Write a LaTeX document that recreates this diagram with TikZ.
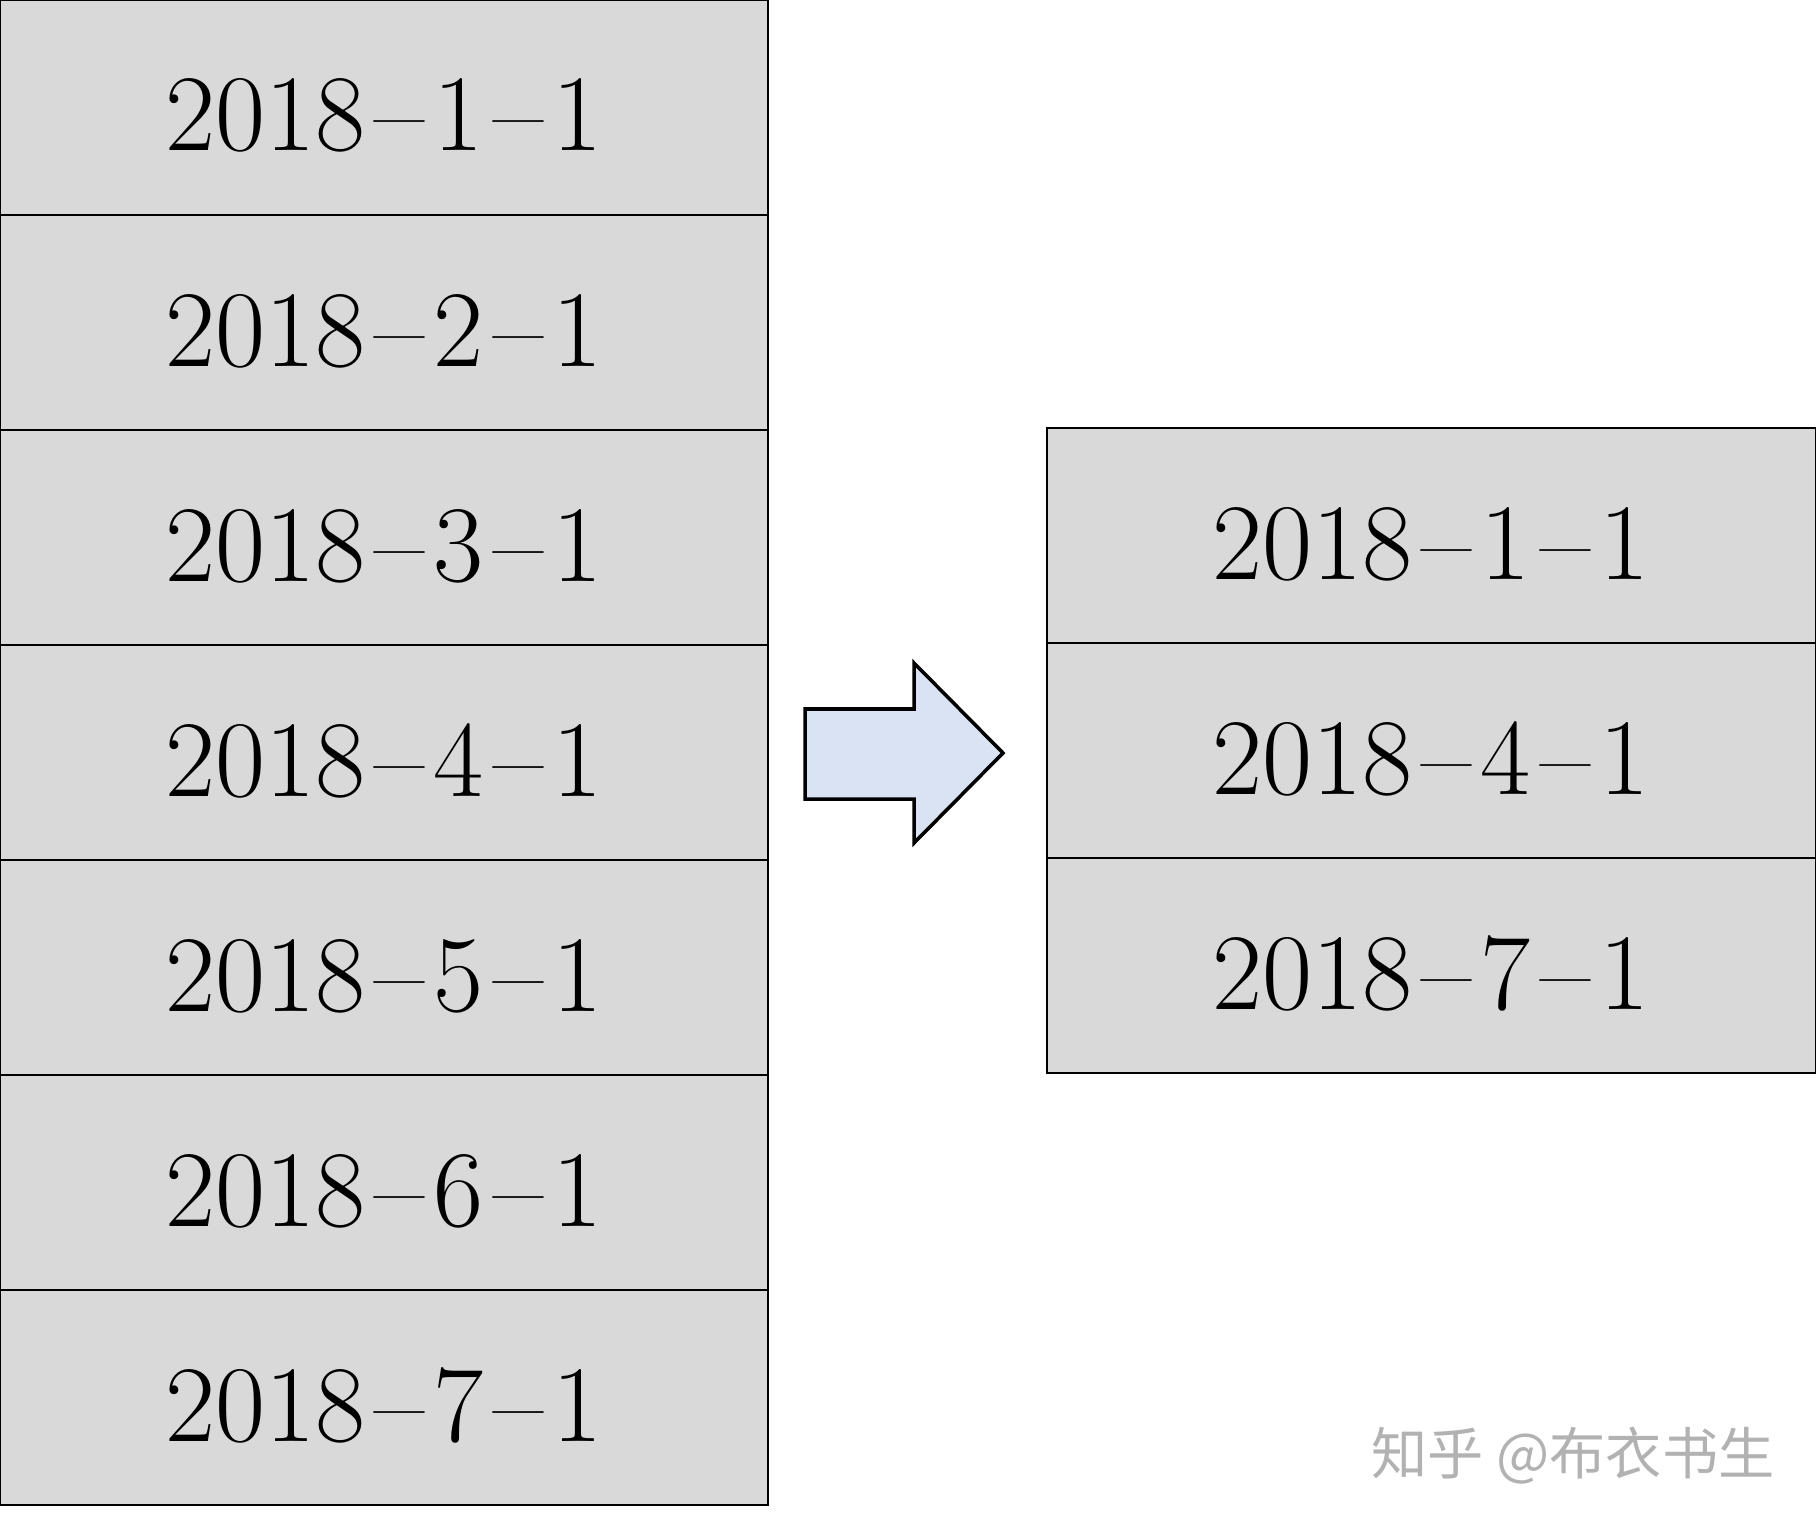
\documentclass[tikz,border=0pt]{standalone}
\usepackage{fontspec}
\newfontfamily\cjk{Noto Sans CJK SC}
\usetikzlibrary{positioning}
\definecolor{cellgray}{HTML}{D9D9D9}
\definecolor{arrowblue}{HTML}{DAE3F3}
\newcommand{\dsep}{\kern2.6pt--\kern2.6pt}
\tikzset{
	datecell/.style={draw=black, line width=0.3pt, fill=cellgray, rectangle,
		minimum width=7.68cm, minimum height=2.15cm, inner sep=0pt, outer sep=0pt,
		text height=0.87cm, text depth=0pt,
		font=\fontsize{31}{31}\selectfont},
}
\begin{document}
\begin{tikzpicture}
	\useasboundingbox (0,0) rectangle (18.16,-15.30);
	%LEFT COLUMN
	\node[datecell, anchor=north west] (l1) at (0,0) {2018\dsep1\dsep1};
	\foreach \m [remember=\m as \p (initially 1)] in {2,...,7}
		\node[datecell, below=0pt of l\p] (l\m) {2018\dsep\m\dsep1};
	%RIGHT COLUMN
	\node[datecell, anchor=north west] (r1) at (10.47,-4.28) {2018\dsep1\dsep1};
	\node[datecell, below=0pt of r1] (r2) {2018\dsep4\dsep1};
	\node[datecell, below=0pt of r2] (r3) {2018\dsep7\dsep1};
	%ARROW
	\draw[line width=1pt, fill=arrowblue, line join=miter]
		(8.05,-7.09) -- (9.14,-7.09) -- (9.14,-6.63) -- (10.03,-7.53)
		-- (9.14,-8.43) -- (9.14,-7.99) -- (8.05,-7.99) -- cycle;
	%WATERMARK
	\node[text=black!30, font=\cjk\fontsize{16}{16}\selectfont] (wm) at (15.73,-14.56) {知乎 @布衣书生};
\end{tikzpicture}
\end{document}
